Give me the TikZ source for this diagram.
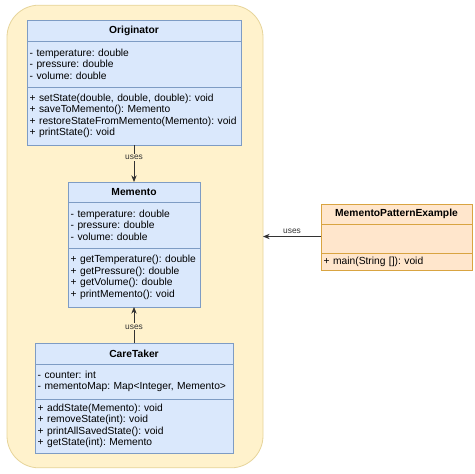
\documentclass[tikz,border=0pt]{standalone}
\usepackage{fontspec}
\setmainfont{Liberation Sans}
\usetikzlibrary{arrows.meta, positioning}
\frenchspacing
\hyphenpenalty=10000

\definecolor{frameFill}{HTML}{FFF2CC}
\definecolor{frameLine}{HTML}{E6D49A}
\definecolor{classFill}{HTML}{DAE8FC}
\definecolor{classLine}{HTML}{7E9CC4}
\definecolor{mainFill}{HTML}{FFE6CC}
\definecolor{mainLine}{HTML}{D9A441}
\definecolor{usesLine}{HTML}{333333}

\begin{document}
\begin{tikzpicture}[
    x=0.75pt, y=-0.75pt,
    >={Stealth[length=5pt,width=4pt]},
    node distance=0pt,
    part/.style 2 args={rectangle, draw=classLine, fill=classFill, line width=0.5pt,
        outer sep=0pt, text width=#1-4pt, inner xsep=2pt, inner ysep=0pt, minimum height=#2,
        align=left, font=\fontsize{7.7}{8.6}\selectfont},
    title/.style={font=\fontsize{7.7}{8.6}\selectfont\bfseries, align=center},
    mainpart/.style={draw=mainLine, fill=mainFill},
    uses/.style={->, usesLine, line width=0.6pt},
    lbl/.style={font=\fontsize{6.3}{7}\selectfont, text=usesLine, inner sep=1pt}
]
\useasboundingbox (0,0) rectangle (474,474);

% package frame
\node (frame) at (135,236.5) [rectangle, rounded corners=24pt, draw=frameLine, fill=frameFill,
    line width=0.6pt, outer sep=0pt, minimum width=192pt, minimum height=347pt] {};

% Originator
\node (origTitle) at (134,30.5) [part={160.5pt}{15.75pt}, title] {Originator};
\node (origAttr) [part={160.5pt}{34.5pt}, below=of origTitle]
    {- temperature: double\\- pressure: double\\- volume: double};
\node (origOps) [part={160.5pt}{43.5pt}, below=of origAttr]
    {+ setState(double, double, double): void\\+ saveToMemento(): Memento\\+ restoreStateFromMemento(Memento): void\\+ printState(): void};

% Memento
\node (memTitle) at (134,192) [part={99pt}{15pt}, title] {Memento};
\node (memAttr) [part={99pt}{34.5pt}, below=of memTitle]
    {- temperature: double\\- pressure: double\\- volume: double};
\node (memOps) [part={99pt}{44.25pt}, below=of memAttr]
    {+ getTemperature(): double\\+ getPressure(): double\\+ getVolume(): double\\+ printMemento(): void};

% CareTaker
\node (careTitle) at (134,353.5) [part={148.5pt}{15.75pt}, title] {CareTaker};
\node (careAttr) [part={148.5pt}{26.25pt}, below=of careTitle]
    {- counter: int\\- mementoMap: Map<Integer, Memento>};
\node (careOps) [part={148.5pt}{40.5pt}, below=of careAttr]
    {+ addState(Memento): void\\+ removeState(int): void\\+ printAllSavedState(): void\\+ getState(int): Memento};

% MementoPatternExample
\node (mainTitle) at (396.5,214) [part={113.25pt}{15pt}, title, mainpart] {MementoPatternExample};
\node (mainAttr) [part={113.25pt}{21.75pt}, mainpart, below=of mainTitle] {};
\node (mainOps) [part={113.25pt}{12.75pt}, mainpart, below=of mainAttr] {+ main(String []): void};

% uses
\draw[uses] (origOps.south) -- node[lbl, fill=frameFill, pos=0.33] {uses} (memTitle.north);
\draw[uses] (careTitle.north) -- node[lbl, fill=frameFill, pos=0.45] {uses} (memOps.south);
\draw[uses] (frame.east -| mainAttr.west) -- node[lbl, above=1pt] {uses} (frame.east);
\end{tikzpicture}
\end{document}
